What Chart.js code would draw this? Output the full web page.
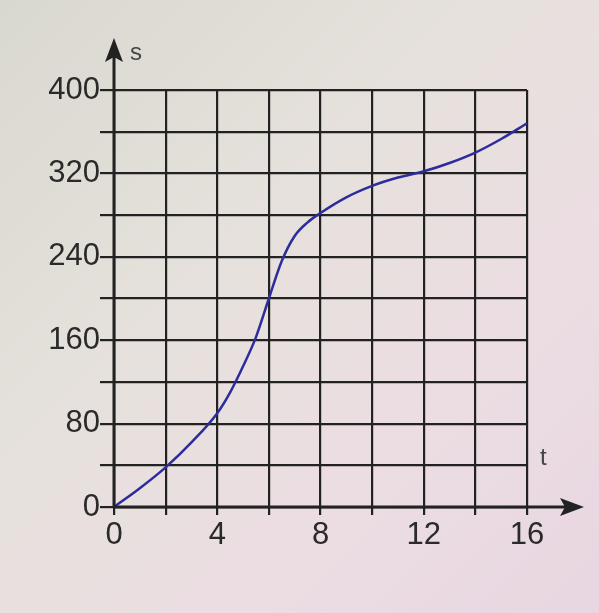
<!DOCTYPE html>
<html><head><meta charset="utf-8">
<script src="https://cdn.jsdelivr.net/npm/chart.js@4"></script>
<style>
html,body{margin:0;padding:0;width:599px;height:613px;overflow:hidden;
background:linear-gradient(135deg,#d9d8cf 0%,#e6e1dc 40%,#ecdde3 70%,#e8d6e0 100%);}
#w{position:absolute;left:0;top:0;width:599px;height:613px}
</style></head><body>
<div id="w"><canvas id="c"></canvas></div>
<script>
const tValues=[0,1,2,3,4,4.5,5,5.5,6,6.5,7,7.5,8,9,10,11,12,13,14,15,16];
const sValues=[0,18,38,62,90,110,135,163,200,236,260,273,282,297,308,316,322,330,340,353,368];
const xTickLabels=[0,4,8,12,16];
const yTickLabels=[0,80,160,240,320,400];
const arrows={id:'arrows',afterDraw(ch){
 const c=ch.ctx,a=ch.chartArea;
 c.save();c.strokeStyle='#222';c.fillStyle='#222';c.lineWidth=3;
 c.beginPath();c.moveTo(a.left,a.bottom);c.lineTo(570,a.bottom);c.stroke();
 c.beginPath();c.moveTo(584,a.bottom);c.lineTo(560,a.bottom-9);c.lineTo(565,a.bottom);c.lineTo(560,a.bottom+9);c.closePath();c.fill();
 c.beginPath();c.moveTo(a.left,a.bottom);c.lineTo(a.left,55);c.stroke();
 c.beginPath();c.moveTo(a.left,38);c.lineTo(a.left-9,62);c.lineTo(a.left,57);c.lineTo(a.left+9,62);c.closePath();c.fill();
 c.font='24px "Liberation Sans"';c.fillStyle='#444';
 c.fillText('s',a.left+16,60);c.fillText('t',540,465);
 c.restore();}};
new Chart(document.getElementById('c'),{type:'line',
data:{datasets:[{data:tValues.map((t,i)=>({x:t,y:sValues[i]})),borderColor:'#2c2c9c',borderWidth:2.5,pointRadius:0,cubicInterpolationMode:'monotone',fill:false}]},
options:{responsive:true,maintainAspectRatio:false,animation:false,
 layout:{padding:{left:0,top:90,right:72,bottom:0}},
 plugins:{legend:{display:false},tooltip:{enabled:false}},
 scales:{
  x:{type:'linear',min:0,max:16,afterFit:s=>{s.height=106;},
   ticks:{stepSize:2,autoSkip:false,maxRotation:0,color:'#2a2a2a',font:{size:31,family:'Liberation Sans'},padding:2,
    callback:v=>xTickLabels.includes(v)?String(v):''},
   grid:{color:'#222',lineWidth:2.2,tickLength:8},border:{display:false}},
  y:{type:'linear',min:0,max:400,afterFit:s=>{s.width=114;},
   ticks:{stepSize:40,autoSkip:false,color:'#2a2a2a',font:{size:31,family:'Liberation Sans'},padding:0,
    callback:v=>yTickLabels.includes(v)?String(v):''},
   grid:{color:'#222',lineWidth:2.2,tickLength:14},border:{display:false}}
 }},plugins:[arrows]});
</script></body></html>
